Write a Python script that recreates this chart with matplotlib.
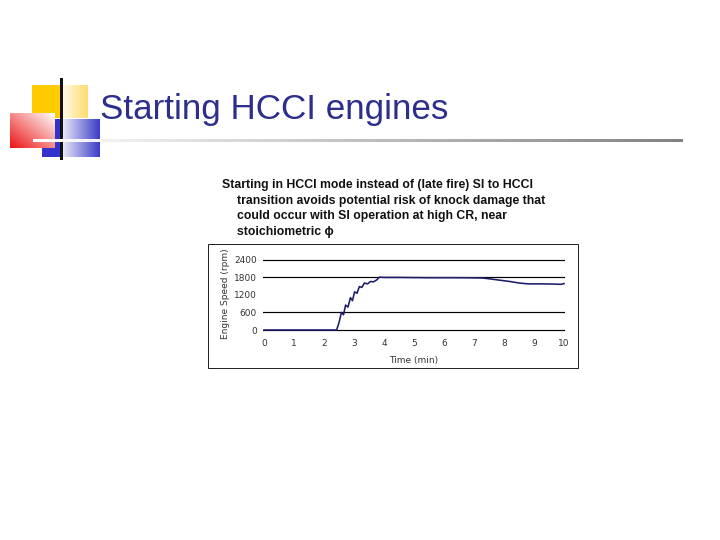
import numpy as np
import matplotlib.pyplot as plt
from matplotlib.patches import Rectangle

# slide texts
title = "Starting HCCI engines"
note_lines = [
    "Starting in HCCI mode instead of (late fire) SI to HCCI",
    "transition avoids potential risk of knock damage that",
    "could occur with SI operation at high CR, near",
    "stoichiometric \u03d5",
]

# engine speed trace
time_min = [0, 1.0, 2.0, 2.42, 2.5, 2.58, 2.65, 2.72, 2.8, 2.88, 2.95, 3.02,
            3.1, 3.18, 3.26, 3.35, 3.45, 3.55, 3.65, 3.75, 3.85, 4.0, 4.5,
            5.0, 5.5, 6.0, 6.5, 7.0, 7.3, 7.6, 7.9, 8.2, 8.5, 8.8, 9.2, 9.6,
            9.9, 10.0]
speed_rpm = [0, 0, 0, 0, 250, 600, 520, 850, 780, 1100, 1000, 1300,
             1250, 1480, 1450, 1600, 1570, 1650, 1640, 1700, 1800, 1790, 1790,
             1785, 1780, 1780, 1780, 1775, 1770, 1730, 1690, 1650, 1600, 1570,
             1570, 1565, 1555, 1580]

x_ticks = list(range(0, 11))
y_ticks = [0, 600, 1200, 1800, 2400]
grid_levels = [0, 600, 1800, 2400]  # the 1200 line is not visible in the picture
x_label = "Time (min)"
y_label = "Engine Speed (rpm)"

W, H = 720, 540
fig = plt.figure(figsize=(10, 7.5), dpi=72)
bg = fig.add_axes([0, 0, 1, 1])
bg.axis('off')


def gradient(c0, c1, nx=64, ny=64, mode='h'):
    # mode 'h' - left to right, 'd' - from bottom-left to top-right
    c0 = np.array(c0) / 255.0
    c1 = np.array(c1) / 255.0
    xs = np.linspace(0, 1, nx)[None, :]
    ys = np.linspace(0, 1, ny)[:, None]
    if mode == 'h':
        t = np.repeat(xs, ny, axis=0)
    else:
        t = (xs + (1 - ys)) / 2.0
    t = t[:, :, None]
    return c0 * (1 - t) + c1 * t


def put(img, x0, x1, y0, y1, z):
    bg.imshow(img, extent=(x0, x1, y1, y0), aspect='auto', origin='upper',
              interpolation='bilinear', zorder=z)


# decorative blocks
bg.add_patch(Rectangle((32, 85), 30, 33, color='#ffcc00', lw=0, zorder=1))
put(gradient((255, 250, 235), (255, 220, 110), mode='h'), 62, 88, 85, 118, 1)
bg.add_patch(Rectangle((42, 119), 20, 38, color='#3333cc', lw=0, zorder=2))
put(gradient((235, 235, 250), (60, 60, 200), mode='h'), 62, 100, 119, 157, 2)
put(gradient((235, 20, 20), (255, 255, 255), mode='d'), 10, 55, 113, 148, 3)
bg.add_patch(Rectangle((59.5, 78), 3, 82, color='#111111', lw=0, zorder=4))
put(gradient((255, 255, 255), (130, 130, 130), ny=2, mode='h'), 33, 683, 139.5, 142.5, 5)

bg.text(100, 119, title, fontsize=35, color='#2e2e8c', va='baseline',
        family=['Liberation Sans', 'DejaVu Sans'])

# note above the chart
for i, line in enumerate(note_lines):
    x = 222 if i == 0 else 237
    bg.text(x, 185 + 15.6 * i, line, fontsize=12.3, fontweight='bold',
            color='#111111', va='center',
            family=['Liberation Sans', 'DejaVu Sans'])

# frame of the pasted chart
bg.add_patch(Rectangle((208, 244), 370, 124, fill=False, ec='#222222', lw=1, zorder=6))

bg.text(226, 294, y_label, rotation=90, fontsize=9, color='#333333',
        ha='center', va='center')
bg.text(414, 360, x_label, fontsize=9, color='#333333',
        ha='center', va='center')

bg.set_xlim(0, W)
bg.set_ylim(H, 0)

# chart itself
left, right, top, bottom = 263, 565, 258, 331.5
ax = fig.add_axes([left / W, 1 - bottom / H, (right - left) / W, (bottom - top) / H])
ax.set_xlim(-1 / 30, 10 + 1 / 30)
ax.set_ylim(-1.5 * 2400 / 70.5, 2400 + 1.5 * 2400 / 70.5)
for g in grid_levels:
    ax.axhline(g, color='black', lw=1.2, zorder=1)
ax.plot(time_min, speed_rpm, color='#1c1c6a', lw=1.6, zorder=2)

ax.set_xticks(x_ticks)
ax.set_yticks(y_ticks)
ax.set_xticklabels([str(t) for t in x_ticks])
ax.set_yticklabels([str(t) for t in y_ticks])
ax.tick_params(length=0, labelsize=9, colors='#333333')
ax.tick_params(axis='y', pad=6)
ax.tick_params(axis='x', pad=7)
for s in ax.spines.values():
    s.set_visible(False)
ax.patch.set_alpha(0)

fig.savefig('out.png', dpi=72)
